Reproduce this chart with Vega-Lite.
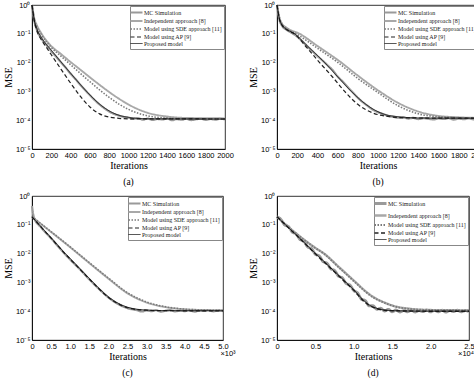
{
  "$schema": "https://vega.github.io/schema/vega-lite/v6.json",
  "padding": {"left": 3, "top": 0, "right": 0, "bottom": 0},
  "background": "white",
  "datasets": {
    "a": [
      {"s":"MC","x":0,"y":1},{"s":"MC","x":25,"y":0.27},{"s":"MC","x":50,"y":0.14},{"s":"MC","x":100,"y":0.066},{"s":"MC","x":150,"y":0.041},{"s":"MC","x":200,"y":0.025},{"s":"MC","x":250,"y":0.0162},{"s":"MC","x":300,"y":0.0102},{"s":"MC","x":350,"y":0.0066},{"s":"MC","x":400,"y":0.0041},{"s":"MC","x":450,"y":0.0027},{"s":"MC","x":500,"y":0.0017},{"s":"MC","x":550,"y":0.00112},{"s":"MC","x":600,"y":0.00074},{"s":"MC","x":650,"y":0.0005},{"s":"MC","x":700,"y":0.00035},{"s":"MC","x":750,"y":0.00026},{"s":"MC","x":800,"y":0.0002},{"s":"MC","x":850,"y":0.000165},{"s":"MC","x":900,"y":0.000145},{"s":"MC","x":950,"y":0.00013},{"s":"MC","x":1000,"y":0.000122},{"s":"MC","x":1050,"y":0.000112},{"s":"MC","x":1100,"y":0.000117},{"s":"MC","x":1150,"y":0.000105},{"s":"MC","x":1200,"y":0.000114},{"s":"MC","x":1250,"y":0.000102},{"s":"MC","x":1300,"y":0.00011},{"s":"MC","x":1350,"y":0.000106},{"s":"MC","x":1400,"y":0.000115},{"s":"MC","x":1450,"y":0.0001},{"s":"MC","x":1500,"y":0.000109},{"s":"MC","x":1550,"y":0.000104},{"s":"MC","x":1600,"y":0.000113},{"s":"MC","x":1650,"y":0.000101},{"s":"MC","x":1700,"y":0.000108},{"s":"MC","x":1750,"y":0.000112},{"s":"MC","x":1800,"y":0.000103},{"s":"MC","x":1850,"y":0.00011},{"s":"MC","x":1900,"y":0.000105},{"s":"MC","x":1950,"y":0.000113},{"s":"MC","x":2000,"y":0.000107},
      {"s":"IA","x":0,"y":1},{"s":"IA","x":25,"y":0.33},{"s":"IA","x":50,"y":0.2},{"s":"IA","x":100,"y":0.1},{"s":"IA","x":200,"y":0.0375},{"s":"IA","x":300,"y":0.0199},{"s":"IA","x":400,"y":0.0105},{"s":"IA","x":500,"y":0.0057},{"s":"IA","x":600,"y":0.00308},{"s":"IA","x":700,"y":0.00169},{"s":"IA","x":800,"y":0.00095},{"s":"IA","x":900,"y":0.00056},{"s":"IA","x":1000,"y":0.00035},{"s":"IA","x":1200,"y":0.00018},{"s":"IA","x":1400,"y":0.000134},{"s":"IA","x":1600,"y":0.00012},{"s":"IA","x":2000,"y":0.000116},
      {"s":"SDE","x":0,"y":1},{"s":"SDE","x":25,"y":0.3},{"s":"SDE","x":50,"y":0.18},{"s":"SDE","x":100,"y":0.09},{"s":"SDE","x":200,"y":0.0336},{"s":"SDE","x":300,"y":0.0167},{"s":"SDE","x":400,"y":0.00843},{"s":"SDE","x":500,"y":0.00425},{"s":"SDE","x":600,"y":0.00217},{"s":"SDE","x":700,"y":0.00113},{"s":"SDE","x":800,"y":0.00062},{"s":"SDE","x":900,"y":0.000364},{"s":"SDE","x":1000,"y":0.000237},{"s":"SDE","x":1200,"y":0.000141},{"s":"SDE","x":1400,"y":0.000118},{"s":"SDE","x":1600,"y":0.000112},{"s":"SDE","x":2000,"y":0.00011},
      {"s":"AP","x":0,"y":1},{"s":"AP","x":25,"y":0.27},{"s":"AP","x":50,"y":0.13},{"s":"AP","x":100,"y":0.06},{"s":"AP","x":150,"y":0.0336},{"s":"AP","x":200,"y":0.0187},{"s":"AP","x":300,"y":0.00598},{"s":"AP","x":400,"y":0.00194},{"s":"AP","x":500,"y":0.000682},{"s":"AP","x":600,"y":0.000289},{"s":"AP","x":700,"y":0.000166},{"s":"AP","x":800,"y":0.000128},{"s":"AP","x":900,"y":0.000116},{"s":"AP","x":1000,"y":0.000112},{"s":"AP","x":2000,"y":0.00011},
      {"s":"PM","x":0,"y":1},{"s":"PM","x":25,"y":0.28},{"s":"PM","x":50,"y":0.15},{"s":"PM","x":100,"y":0.072},{"s":"PM","x":200,"y":0.0269},{"s":"PM","x":300,"y":0.0106},{"s":"PM","x":400,"y":0.00427},{"s":"PM","x":500,"y":0.00175},{"s":"PM","x":600,"y":0.000753},{"s":"PM","x":700,"y":0.000363},{"s":"PM","x":800,"y":0.00021},{"s":"PM","x":900,"y":0.000149},{"s":"PM","x":1000,"y":0.000126},{"s":"PM","x":1200,"y":0.000112},{"s":"PM","x":2000,"y":0.00011}
    ],
    "b": [
      {"s":"MC","x":0,"y":1},{"s":"MC","x":25,"y":0.3},{"s":"MC","x":50,"y":0.19},{"s":"MC","x":100,"y":0.135},{"s":"MC","x":150,"y":0.105},{"s":"MC","x":200,"y":0.08},{"s":"MC","x":250,"y":0.055},{"s":"MC","x":300,"y":0.037},{"s":"MC","x":350,"y":0.025},{"s":"MC","x":400,"y":0.017},{"s":"MC","x":450,"y":0.0118},{"s":"MC","x":500,"y":0.0081},{"s":"MC","x":550,"y":0.0055},{"s":"MC","x":600,"y":0.0033},{"s":"MC","x":650,"y":0.0022},{"s":"MC","x":700,"y":0.00142},{"s":"MC","x":750,"y":0.00092},{"s":"MC","x":800,"y":0.0006},{"s":"MC","x":850,"y":0.00042},{"s":"MC","x":900,"y":0.00031},{"s":"MC","x":950,"y":0.00023},{"s":"MC","x":1000,"y":0.00019},{"s":"MC","x":1050,"y":0.000165},{"s":"MC","x":1100,"y":0.00014},{"s":"MC","x":1150,"y":0.000132},{"s":"MC","x":1200,"y":0.000122},{"s":"MC","x":1250,"y":0.000125},{"s":"MC","x":1300,"y":0.000114},{"s":"MC","x":1350,"y":0.00012},{"s":"MC","x":1400,"y":0.000109},{"s":"MC","x":1450,"y":0.000117},{"s":"MC","x":1500,"y":0.000112},{"s":"MC","x":1550,"y":0.000106},{"s":"MC","x":1600,"y":0.000115},{"s":"MC","x":1650,"y":0.00011},{"s":"MC","x":1700,"y":0.000118},{"s":"MC","x":1750,"y":0.000105},{"s":"MC","x":1800,"y":0.000113},{"s":"MC","x":1850,"y":0.000108},{"s":"MC","x":1900,"y":0.000116},{"s":"MC","x":1950,"y":0.000107},{"s":"MC","x":2000,"y":0.000112},
      {"s":"IA","x":0,"y":1},{"s":"IA","x":25,"y":0.355},{"s":"IA","x":50,"y":0.224},{"s":"IA","x":100,"y":0.158},{"s":"IA","x":225,"y":0.1},{"s":"IA","x":400,"y":0.038},{"s":"IA","x":637,"y":0.01},{"s":"IA","x":800,"y":0.00355},{"s":"IA","x":1016,"y":0.001},{"s":"IA","x":1200,"y":0.000398},{"s":"IA","x":1400,"y":0.0002},{"s":"IA","x":1600,"y":0.000141},{"s":"IA","x":1800,"y":0.000126},{"s":"IA","x":2000,"y":0.00012},
      {"s":"SDE","x":0,"y":1},{"s":"SDE","x":25,"y":0.355},{"s":"SDE","x":50,"y":0.219},{"s":"SDE","x":100,"y":0.151},{"s":"SDE","x":200,"y":0.0955},{"s":"SDE","x":400,"y":0.0316},{"s":"SDE","x":604,"y":0.01},{"s":"SDE","x":800,"y":0.00282},{"s":"SDE","x":983,"y":0.001},{"s":"SDE","x":1200,"y":0.000316},{"s":"SDE","x":1400,"y":0.000166},{"s":"SDE","x":1600,"y":0.000132},{"s":"SDE","x":2000,"y":0.000117},
      {"s":"AP","x":0,"y":1},{"s":"AP","x":25,"y":0.316},{"s":"AP","x":50,"y":0.2},{"s":"AP","x":100,"y":0.135},{"s":"AP","x":170,"y":0.1},{"s":"AP","x":300,"y":0.0316},{"s":"AP","x":422,"y":0.01},{"s":"AP","x":550,"y":0.00316},{"s":"AP","x":670,"y":0.001},{"s":"AP","x":800,"y":0.000355},{"s":"AP","x":950,"y":0.000178},{"s":"AP","x":1100,"y":0.000135},{"s":"AP","x":1300,"y":0.00012},{"s":"AP","x":2000,"y":0.000117},
      {"s":"PM","x":0,"y":1},{"s":"PM","x":25,"y":0.316},{"s":"PM","x":50,"y":0.2},{"s":"PM","x":100,"y":0.141},{"s":"PM","x":175,"y":0.1},{"s":"PM","x":300,"y":0.038},{"s":"PM","x":472,"y":0.01},{"s":"PM","x":600,"y":0.00324},{"s":"PM","x":736,"y":0.001},{"s":"PM","x":900,"y":0.000316},{"s":"PM","x":1050,"y":0.000166},{"s":"PM","x":1200,"y":0.000132},{"s":"PM","x":1400,"y":0.00012},{"s":"PM","x":2000,"y":0.000117}
    ],
    "c": [
      {"s":"MC","x":0,"y":0.45},{"s":"MC","x":50,"y":0.18},{"s":"MC","x":250,"y":0.078},{"s":"MC","x":500,"y":0.034},{"s":"MC","x":750,"y":0.0142},{"s":"MC","x":1000,"y":0.0062},{"s":"MC","x":1250,"y":0.0029},{"s":"MC","x":1500,"y":0.00128},{"s":"MC","x":1750,"y":0.0006},{"s":"MC","x":2000,"y":0.0003},{"s":"MC","x":2250,"y":0.000178},{"s":"MC","x":2500,"y":0.000128},{"s":"MC","x":2750,"y":0.000108},{"s":"MC","x":2875,"y":0.000098},{"s":"MC","x":3000,"y":0.000106},{"s":"MC","x":3125,"y":0.0001},{"s":"MC","x":3250,"y":0.000108},{"s":"MC","x":3375,"y":0.000097},{"s":"MC","x":3500,"y":0.000104},{"s":"MC","x":3625,"y":0.000109},{"s":"MC","x":3750,"y":0.000099},{"s":"MC","x":3875,"y":0.000105},{"s":"MC","x":4000,"y":0.0001},{"s":"MC","x":4125,"y":0.000108},{"s":"MC","x":4250,"y":0.000097},{"s":"MC","x":4375,"y":0.000105},{"s":"MC","x":4500,"y":0.000102},{"s":"MC","x":4625,"y":0.000109},{"s":"MC","x":4750,"y":0.000099},{"s":"MC","x":4875,"y":0.000106},{"s":"MC","x":5000,"y":0.000101},
      {"s":"IA","x":0,"y":0.19},{"s":"IA","x":500,"y":0.0562},{"s":"IA","x":1000,"y":0.0166},{"s":"IA","x":1200,"y":0.01},{"s":"IA","x":1500,"y":0.00468},{"s":"IA","x":2000,"y":0.00135},{"s":"IA","x":2500,"y":0.000417},{"s":"IA","x":3000,"y":0.0002},{"s":"IA","x":3500,"y":0.000138},{"s":"IA","x":4000,"y":0.000117},{"s":"IA","x":4500,"y":0.00011},{"s":"IA","x":5000,"y":0.000107},
      {"s":"SDE","x":0,"y":0.19},{"s":"SDE","x":500,"y":0.058},{"s":"SDE","x":1000,"y":0.0172},{"s":"SDE","x":1200,"y":0.0104},{"s":"SDE","x":1500,"y":0.0049},{"s":"SDE","x":2000,"y":0.00142},{"s":"SDE","x":2500,"y":0.00044},{"s":"SDE","x":3000,"y":0.00021},{"s":"SDE","x":3500,"y":0.000142},{"s":"SDE","x":4000,"y":0.000118},{"s":"SDE","x":4500,"y":0.00011},{"s":"SDE","x":5000,"y":0.000107},
      {"s":"AP","x":0,"y":0.19},{"s":"AP","x":250,"y":0.08},{"s":"AP","x":500,"y":0.0345},{"s":"AP","x":873,"y":0.0096},{"s":"AP","x":1000,"y":0.0064},{"s":"AP","x":1250,"y":0.0029},{"s":"AP","x":1500,"y":0.0013},{"s":"AP","x":1750,"y":0.0006},{"s":"AP","x":2000,"y":0.0003},{"s":"AP","x":2250,"y":0.000182},{"s":"AP","x":2500,"y":0.000132},{"s":"AP","x":2750,"y":0.000114},{"s":"AP","x":3000,"y":0.000108},{"s":"AP","x":3500,"y":0.000104},{"s":"AP","x":5000,"y":0.000103},
      {"s":"PM","x":0,"y":0.19},{"s":"PM","x":250,"y":0.0813},{"s":"PM","x":500,"y":0.0355},{"s":"PM","x":873,"y":0.01},{"s":"PM","x":1000,"y":0.00676},{"s":"PM","x":1250,"y":0.00302},{"s":"PM","x":1500,"y":0.00138},{"s":"PM","x":1750,"y":0.000631},{"s":"PM","x":2000,"y":0.000316},{"s":"PM","x":2250,"y":0.000191},{"s":"PM","x":2500,"y":0.000138},{"s":"PM","x":2750,"y":0.000117},{"s":"PM","x":3000,"y":0.00011},{"s":"PM","x":3500,"y":0.000105},{"s":"PM","x":5000,"y":0.000104}
    ],
    "d": [
      {"s":"MC","x":0,"y":0.19},{"s":"MC","x":500,"y":0.1545},{"s":"MC","x":1000,"y":0.0984},{"s":"MC","x":1500,"y":0.0865},{"s":"MC","x":2000,"y":0.0551},{"s":"MC","x":2500,"y":0.0484},{"s":"MC","x":3000,"y":0.0307},{"s":"MC","x":3500,"y":0.0269},{"s":"MC","x":4000,"y":0.017},{"s":"MC","x":4500,"y":0.0149},{"s":"MC","x":5000,"y":0.00944},{"s":"MC","x":5500,"y":0.0083},{"s":"MC","x":6000,"y":0.00528},{"s":"MC","x":6500,"y":0.00465},{"s":"MC","x":7000,"y":0.00296},{"s":"MC","x":7500,"y":0.0026},{"s":"MC","x":8000,"y":0.00165},{"s":"MC","x":8500,"y":0.00145},{"s":"MC","x":9000,"y":0.000923},{"s":"MC","x":9500,"y":0.000813},{"s":"MC","x":10000,"y":0.000519},{"s":"MC","x":10500,"y":0.000432},{"s":"MC","x":11000,"y":0.00026},{"s":"MC","x":11500,"y":0.000234},{"s":"MC","x":12000,"y":0.000153},{"s":"MC","x":12500,"y":0.000157},{"s":"MC","x":13000,"y":0.000116},{"s":"MC","x":13500,"y":0.000127},{"s":"MC","x":14000,"y":0.000101},{"s":"MC","x":14500,"y":0.000116},{"s":"MC","x":15000,"y":0.0000955},{"s":"MC","x":15500,"y":0.000111},{"s":"MC","x":16000,"y":0.0000933},{"s":"MC","x":16500,"y":0.000105},{"s":"MC","x":17000,"y":0.0000955},{"s":"MC","x":17500,"y":0.000109},{"s":"MC","x":18000,"y":0.0000933},{"s":"MC","x":18500,"y":0.000105},{"s":"MC","x":19000,"y":0.0000966},{"s":"MC","x":19500,"y":0.00011},{"s":"MC","x":20000,"y":0.0000944},{"s":"MC","x":20500,"y":0.000107},{"s":"MC","x":21000,"y":0.0000955},{"s":"MC","x":21500,"y":0.000108},{"s":"MC","x":22000,"y":0.0000933},{"s":"MC","x":22500,"y":0.000106},{"s":"MC","x":23000,"y":0.0000966},{"s":"MC","x":23500,"y":0.000109},{"s":"MC","x":24000,"y":0.0000944},{"s":"MC","x":24500,"y":0.000105},{"s":"MC","x":25000,"y":0.0000977},
      {"s":"IA","x":0,"y":0.19},{"s":"IA","x":2500,"y":0.05},{"s":"IA","x":5000,"y":0.0158},{"s":"IA","x":6130,"y":0.01},{"s":"IA","x":8000,"y":0.00355},{"s":"IA","x":10260,"y":0.001},{"s":"IA","x":11500,"y":0.0005},{"s":"IA","x":12500,"y":0.000316},{"s":"IA","x":14000,"y":0.0002},{"s":"IA","x":15000,"y":0.000158},{"s":"IA","x":17500,"y":0.00012},{"s":"IA","x":20000,"y":0.00011},{"s":"IA","x":25000,"y":0.000107},
      {"s":"SDE","x":0,"y":0.19},{"s":"SDE","x":2500,"y":0.049},{"s":"SDE","x":5000,"y":0.0155},{"s":"SDE","x":6130,"y":0.0098},{"s":"SDE","x":8000,"y":0.0034},{"s":"SDE","x":10260,"y":0.00096},{"s":"SDE","x":11500,"y":0.00048},{"s":"SDE","x":12500,"y":0.000305},{"s":"SDE","x":14000,"y":0.000195},{"s":"SDE","x":15000,"y":0.000155},{"s":"SDE","x":17500,"y":0.000118},{"s":"SDE","x":20000,"y":0.00011},{"s":"SDE","x":25000,"y":0.000107},
      {"s":"AP","x":0,"y":0.19},{"s":"AP","x":2500,"y":0.044},{"s":"AP","x":5000,"y":0.0098},{"s":"AP","x":7500,"y":0.0023},{"s":"AP","x":9000,"y":0.00095},{"s":"AP","x":10000,"y":0.00053},{"s":"AP","x":11000,"y":0.000265},{"s":"AP","x":12000,"y":0.000158},{"s":"AP","x":13000,"y":0.000122},{"s":"AP","x":14000,"y":0.000108},{"s":"AP","x":15000,"y":0.000104},{"s":"AP","x":20000,"y":0.0001},{"s":"AP","x":25000,"y":0.0001},
      {"s":"PM","x":0,"y":0.19},{"s":"PM","x":2500,"y":0.0447},{"s":"PM","x":5000,"y":0.0102},{"s":"PM","x":7500,"y":0.0024},{"s":"PM","x":9000,"y":0.001},{"s":"PM","x":10000,"y":0.000562},{"s":"PM","x":11000,"y":0.000282},{"s":"PM","x":12000,"y":0.000166},{"s":"PM","x":13000,"y":0.000126},{"s":"PM","x":14000,"y":0.00011},{"s":"PM","x":15000,"y":0.000105},{"s":"PM","x":20000,"y":0.0001},{"s":"PM","x":25000,"y":0.0001}
    ],
    "xc": [{"t": "×10³", "x": 5000, "y": 0.00001}],
    "xd": [{"t": "×10⁴", "x": 25000, "y": 0.00001}]
  },
  "concat": [
    {
      "width": 193, "height": 144,
      "title": {"text": "(a)"},
      "data": {"name": "a"},
      "mark": {"type": "line", "interpolate": "monotone"},
      "encoding": {
        "x": {"field": "x", "type": "quantitative", "scale": {"domain": [0, 2000], "nice": false}, "axis": {"values": [0,200,400,600,800,1000,1200,1400,1600,1800,2000], "format": "d", "title": "Iterations"}},
        "y": {"field": "y", "type": "quantitative", "scale": {"type": "log", "domain": [0.00001, 1]}, "axis": {"values": [0.00001,0.0001,0.001,0.01,0.1,1], "labelExpr": "datum.value > 0.5 ? '10⁰' : datum.value > 0.05 ? '10⁻¹' : datum.value > 0.005 ? '10⁻²' : datum.value > 0.0005 ? '10⁻³' : datum.value > 0.00005 ? '10⁻⁴' : '10⁻⁵'", "title": "MSE"}},
        "color": {"field": "s", "type": "nominal", "scale": {"domain": ["MC","IA","SDE","AP","PM"], "range": ["#9a9a9a","#a8a8a8","#7a7a7a","#222222","#111111"]}, "legend": {"title": null, "orient": "top-right", "labelExpr": "datum.label == 'MC' ? 'MC Simulation' : datum.label == 'IA' ? 'Independent approach [8]' : datum.label == 'SDE' ? 'Model using SDE approach [11]' : datum.label == 'AP' ? 'Model using AP [9]' : 'Proposed model'"}},
        "strokeDash": {"field": "s", "type": "nominal", "scale": {"domain": ["MC","IA","SDE","AP","PM"], "range": [[1,0],[1,0],[1.5,1.5],[4,2.5],[1,0]]}, "legend": {"title": null, "orient": "top-right", "labelExpr": "datum.label == 'MC' ? 'MC Simulation' : datum.label == 'IA' ? 'Independent approach [8]' : datum.label == 'SDE' ? 'Model using SDE approach [11]' : datum.label == 'AP' ? 'Model using AP [9]' : 'Proposed model'"}},
        "strokeWidth": {"field": "s", "type": "nominal", "scale": {"domain": ["MC","IA","SDE","AP","PM"], "range": [2.2,0.9,1,1.1,1.6]}, "legend": {"title": null, "orient": "top-right", "labelExpr": "datum.label == 'MC' ? 'MC Simulation' : datum.label == 'IA' ? 'Independent approach [8]' : datum.label == 'SDE' ? 'Model using SDE approach [11]' : datum.label == 'AP' ? 'Model using AP [9]' : 'Proposed model'"}}
      }
    },
    {
      "width": 202, "height": 144,
      "title": {"text": "(b)"},
      "data": {"name": "b"},
      "mark": {"type": "line", "interpolate": "monotone"},
      "encoding": {
        "x": {"field": "x", "type": "quantitative", "scale": {"domain": [0, 2000], "nice": false}, "axis": {"values": [0,200,400,600,800,1000,1200,1400,1600,1800,2000], "format": "d", "title": "Iterations"}},
        "y": {"field": "y", "type": "quantitative", "scale": {"type": "log", "domain": [0.00001, 1]}, "axis": {"values": [0.00001,0.0001,0.001,0.01,0.1,1], "labelExpr": "datum.value > 0.5 ? '10⁰' : datum.value > 0.05 ? '10⁻¹' : datum.value > 0.005 ? '10⁻²' : datum.value > 0.0005 ? '10⁻³' : datum.value > 0.00005 ? '10⁻⁴' : '10⁻⁵'", "title": "MSE"}},
        "color": {"field": "s", "type": "nominal", "scale": {"domain": ["MC","IA","SDE","AP","PM"], "range": ["#9a9a9a","#a8a8a8","#7a7a7a","#222222","#111111"]}, "legend": {"title": null, "orient": "top-right", "labelExpr": "datum.label == 'MC' ? 'MC Simulation' : datum.label == 'IA' ? 'Independent approach [8]' : datum.label == 'SDE' ? 'Model using SDE approach [11]' : datum.label == 'AP' ? 'Model using AP [9]' : 'Proposed model'"}},
        "strokeDash": {"field": "s", "type": "nominal", "scale": {"domain": ["MC","IA","SDE","AP","PM"], "range": [[1,0],[1,0],[1.5,1.5],[4,2.5],[1,0]]}, "legend": {"title": null, "orient": "top-right", "labelExpr": "datum.label == 'MC' ? 'MC Simulation' : datum.label == 'IA' ? 'Independent approach [8]' : datum.label == 'SDE' ? 'Model using SDE approach [11]' : datum.label == 'AP' ? 'Model using AP [9]' : 'Proposed model'"}},
        "strokeWidth": {"field": "s", "type": "nominal", "scale": {"domain": ["MC","IA","SDE","AP","PM"], "range": [2.2,0.9,1,1.1,1.6]}, "legend": {"title": null, "orient": "top-right", "labelExpr": "datum.label == 'MC' ? 'MC Simulation' : datum.label == 'IA' ? 'Independent approach [8]' : datum.label == 'SDE' ? 'Model using SDE approach [11]' : datum.label == 'AP' ? 'Model using AP [9]' : 'Proposed model'"}}
      }
    },
    {
      "width": 191, "height": 144,
      "title": {"text": "(c)"},
      "encoding": {
        "x": {"field": "x", "type": "quantitative", "scale": {"domain": [0, 5000], "nice": false}, "axis": {"values": [0,500,1000,1500,2000,2500,3000,3500,4000,4500,5000], "labelExpr": "datum.value == 0 ? '0' : format(datum.value / 1000, '.1f')", "title": "Iterations"}},
        "y": {"field": "y", "type": "quantitative", "scale": {"type": "log", "domain": [0.00001, 1]}, "axis": {"values": [0.00001,0.0001,0.001,0.01,0.1,1], "labelExpr": "datum.value > 0.5 ? '10⁰' : datum.value > 0.05 ? '10⁻¹' : datum.value > 0.005 ? '10⁻²' : datum.value > 0.0005 ? '10⁻³' : datum.value > 0.00005 ? '10⁻⁴' : '10⁻⁵'", "title": "MSE"}}
      },
      "layer": [
        {
          "data": {"name": "c"},
          "mark": {"type": "line", "interpolate": "monotone"},
          "encoding": {
            "color": {"field": "s", "type": "nominal", "scale": {"domain": ["MC","IA","SDE","AP","PM"], "range": ["#9a9a9a","#a8a8a8","#7a7a7a","#222222","#111111"]}, "legend": {"title": null, "orient": "top-right", "labelExpr": "datum.label == 'MC' ? 'MC Simulation' : datum.label == 'IA' ? 'Independent approach [8]' : datum.label == 'SDE' ? 'Model using SDE approach [11]' : datum.label == 'AP' ? 'Model using AP [9]' : 'Proposed model'"}},
            "strokeDash": {"field": "s", "type": "nominal", "scale": {"domain": ["MC","IA","SDE","AP","PM"], "range": [[1,0],[1,0],[1.5,1.5],[4,2.5],[1,0]]}, "legend": {"title": null, "orient": "top-right", "labelExpr": "datum.label == 'MC' ? 'MC Simulation' : datum.label == 'IA' ? 'Independent approach [8]' : datum.label == 'SDE' ? 'Model using SDE approach [11]' : datum.label == 'AP' ? 'Model using AP [9]' : 'Proposed model'"}},
            "strokeWidth": {"field": "s", "type": "nominal", "scale": {"domain": ["MC","IA","SDE","AP","PM"], "range": [2.2,0.9,1,1.1,1.6]}, "legend": {"title": null, "orient": "top-right", "labelExpr": "datum.label == 'MC' ? 'MC Simulation' : datum.label == 'IA' ? 'Independent approach [8]' : datum.label == 'SDE' ? 'Model using SDE approach [11]' : datum.label == 'AP' ? 'Model using AP [9]' : 'Proposed model'"}}
          }
        },
        {
          "data": {"name": "xc"},
          "mark": {"type": "text", "font": "Liberation Sans", "fontSize": 7.5, "color": "black", "align": "center", "baseline": "middle", "dx": 5, "dy": 14},
          "encoding": {"text": {"field": "t"}}
        }
      ]
    },
    {
      "width": 192, "height": 144,
      "title": {"text": "(d)"},
      "encoding": {
        "x": {"field": "x", "type": "quantitative", "scale": {"domain": [0, 25000], "nice": false}, "axis": {"values": [0,5000,10000,15000,20000,25000], "labelExpr": "datum.value == 0 ? '0' : format(datum.value / 10000, '.1f')", "title": "Iterations"}},
        "y": {"field": "y", "type": "quantitative", "scale": {"type": "log", "domain": [0.00001, 1]}, "axis": {"values": [0.00001,0.0001,0.001,0.01,0.1,1], "labelExpr": "datum.value > 0.5 ? '10⁰' : datum.value > 0.05 ? '10⁻¹' : datum.value > 0.005 ? '10⁻²' : datum.value > 0.0005 ? '10⁻³' : datum.value > 0.00005 ? '10⁻⁴' : '10⁻⁵'", "title": "MSE"}}
      },
      "layer": [
        {
          "data": {"name": "d"},
          "mark": {"type": "line", "interpolate": "monotone"},
          "encoding": {
            "color": {"field": "s", "type": "nominal", "scale": {"domain": ["MC","IA","SDE","AP","PM"], "range": ["#9a9a9a","#a8a8a8","#7a7a7a","#222222","#111111"]}, "legend": {"title": null, "orient": "top-right", "labelExpr": "datum.label == 'MC' ? 'MC Simulation' : datum.label == 'IA' ? 'Independent approach [8]' : datum.label == 'SDE' ? 'Model using SDE approach [11]' : datum.label == 'AP' ? 'Model using AP [9]' : 'Proposed model'"}},
            "strokeDash": {"field": "s", "type": "nominal", "scale": {"domain": ["MC","IA","SDE","AP","PM"], "range": [[1,0],[1,0],[1.5,1.5],[4,2.5],[1,0]]}, "legend": {"title": null, "orient": "top-right", "labelExpr": "datum.label == 'MC' ? 'MC Simulation' : datum.label == 'IA' ? 'Independent approach [8]' : datum.label == 'SDE' ? 'Model using SDE approach [11]' : datum.label == 'AP' ? 'Model using AP [9]' : 'Proposed model'"}},
            "strokeWidth": {"field": "s", "type": "nominal", "scale": {"domain": ["MC","IA","SDE","AP","PM"], "range": [2.8,0.9,1,1.1,1.6]}, "legend": {"title": null, "orient": "top-right", "labelExpr": "datum.label == 'MC' ? 'MC Simulation' : datum.label == 'IA' ? 'Independent approach [8]' : datum.label == 'SDE' ? 'Model using SDE approach [11]' : datum.label == 'AP' ? 'Model using AP [9]' : 'Proposed model'"}}
          }
        },
        {
          "data": {"name": "xd"},
          "mark": {"type": "text", "font": "Liberation Sans", "fontSize": 7.5, "color": "black", "align": "center", "baseline": "middle", "dx": -3, "dy": 14},
          "encoding": {"text": {"field": "t"}}
        }
      ]
    }
  ],
  "columns": 2,
  "align": "none",
  "spacing": {"column": 11, "row": 4},
  "resolve": {"scale": {"color": "independent", "strokeDash": "independent", "strokeWidth": "independent"}, "legend": {"color": "independent", "strokeDash": "independent", "strokeWidth": "independent"}},
  "config": {
    "font": "Liberation Serif",
    "view": {"stroke": "black", "strokeWidth": 0.8},
    "axis": {"grid": false, "ticks": false, "labelFont": "Liberation Sans", "labelFontSize": 7.5, "labelColor": "black", "labelPadding": 2, "labelFlush": false, "titleFont": "Liberation Serif", "titleFontSize": 10, "titleFontWeight": "normal", "titleColor": "black", "titlePadding": 2, "domainColor": "black", "domainWidth": 0.8},
    "legend": {"padding": 2, "offset": 1, "strokeColor": "#888", "fillColor": "white", "labelFont": "Liberation Serif", "labelFontSize": 6, "labelColor": "#222", "symbolType": "M-2,0H2", "symbolSize": 36, "rowPadding": 0, "labelOffset": 3, "labelLimit": 200},
    "title": {"font": "Liberation Serif", "fontSize": 9.5, "fontWeight": "normal", "orient": "bottom", "offset": 6, "color": "black"}
  }
}
